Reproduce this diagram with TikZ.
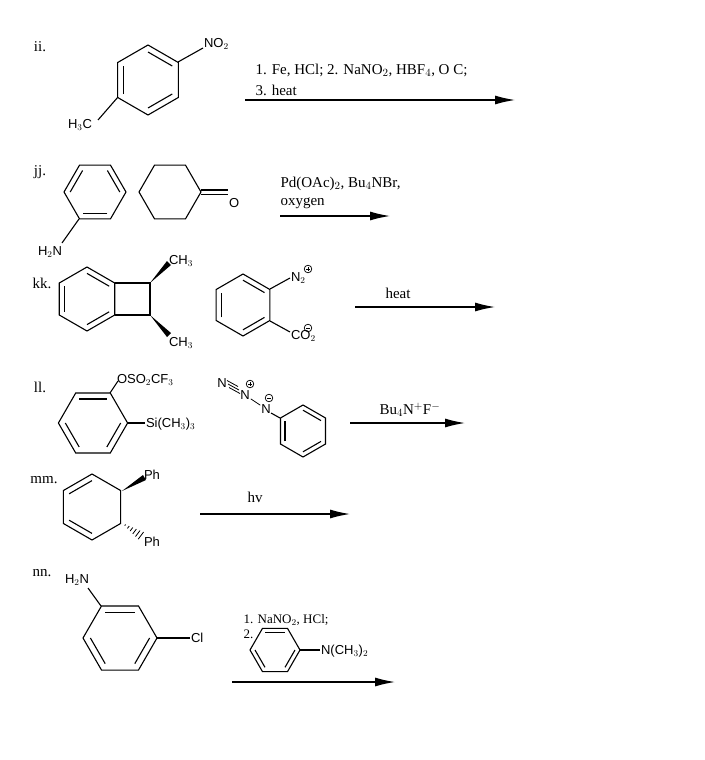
\documentclass[tikz,border=0pt]{standalone}
\usepackage{fontspec}
\setmainfont{Liberation Serif}
\newfontfamily\chemf{Liberation Sans}
\usetikzlibrary{arrows.meta}
\begin{document}
\begin{tikzpicture}[x=1pt,y=-1pt,line width=1.1pt,
  lab/.style={font=\fontsize{15}{17}\selectfont,inner sep=0pt},
  ch/.style={font=\chemf\fontsize{13}{15}\selectfont,inner sep=0.5pt},
  rx/.style={line width=1.3pt,-{Latex[length=20pt,width=9pt]}}]
\useasboundingbox (0,0) rectangle (704,760);
\newcommand\hexring[5]{\begin{scope}[shift={(#1,#2)}]
 \draw (#4:#3) \foreach \i in {1,...,5}{ -- ({#4+60*\i}:#3)} -- cycle;
 \foreach \i in {#5}{\draw ({#4+60*\i}:{0.8*#3}) -- ({#4+60*\i+60}:{0.8*#3});}
 \end{scope}}
\newcommand\chg[3]{\draw[line width=0.7pt] (#1,#2) circle (3.8pt);
 \draw[line width=0.9pt] (#1-2.2,#2) -- (#1+2.2,#2);
 \ifx#3+\draw[line width=0.9pt] (#1,#2-2.2) -- (#1,#2+2.2);\fi}
% labels
\node[lab] (l1) at (40,47) {ii.};
\node[lab] (l2) at (40,172) {jj.};
\node[lab] (l3) at (42,283) {kk.};
\node[lab] (l4) at (40,387) {ll.};
\node[lab] (l5) at (44,480) {mm.};
\node[lab] (l6) at (42,573) {nn.};
% ii
\hexring{148}{80}{35}{-90}{0,2,4}
\draw (178,62) -- (203,48);
\node[ch,anchor=west] (no2) at (203,44) {NO$_2$};
\draw (118,97) -- (98,120);
\node[ch] (h3c) at (80,125) {H$_3$C};
\node[lab,anchor=west] (t1) at (255,70) {1. Fe, HCl; 2. NaNO$_2$, HBF$_4$, O C;};
\node[lab,anchor=west] (t2) at (255,90) {3. heat};
\coordinate (a1s) at (245,100); \coordinate (a1e) at (515,100);
\draw[rx] (a1s) -- (a1e);
% jj
\hexring{95}{192}{31}{0}{1,3,5}
\draw (79,219) -- (62,243);
\node[ch] (nh2) at (50,252) {H$_2$N};
\hexring{170}{192}{31}{0}{}
\draw (201,190) -- (228,190); \draw (201,194.5) -- (228,194.5);
\node[ch,anchor=west] (o1) at (228,203) {O};
\node[lab,anchor=west] (t3) at (280,184) {Pd(OAc)$_2$, Bu$_4$NBr,};
\node[lab,anchor=west] (t4) at (280,203) {oxygen};
\coordinate (a2s) at (280,216); \coordinate (a2e) at (390,216);
\draw[rx] (a2s) -- (a2e);
% kk
\hexring{87}{299}{32}{-90}{0,2,4}
\draw (115,283) -- (150,283) -- (150,315) -- (115,315);
\fill (150,283) -- (167,261) -- (171,265) -- cycle;
\fill (150,315) -- (167,337) -- (171,333) -- cycle;
\node[ch,anchor=west] (me1) at (168,261) {CH$_3$};
\node[ch,anchor=west] (me2) at (168,343) {CH$_3$};
\hexring{243}{305}{31}{-90}{0,2,4}
\draw (270,289) -- (290,278);
\node[ch,anchor=west] (n2) at (290,278) {N$_2$};
\chg{308}{269}{+}
\draw (270,321) -- (290,332);
\node[ch,anchor=west] (co2) at (290,336) {CO$_2$};
\chg{308}{328}{-}
\node[lab] (t5) at (398,293) {heat};
\coordinate (a3s) at (355,307); \coordinate (a3e) at (495,307);
\draw[rx] (a3s) -- (a3e);
% ll
\hexring{93}{423}{34.6}{0}{0,2,4}
\draw (110,393) -- (118,381);
\node[ch,anchor=west] (otf) at (116,380) {OSO$_2$CF$_3$};
\draw (127,423) -- (145,423);
\node[ch,anchor=west] (tms) at (145,424) {Si(CH$_3$)$_3$};
\node[ch] (na) at (222,383) {N};
\node[ch] (nb) at (245,395) {N};
\node[ch] (nc) at (266,409) {N};
\draw[line width=0.8pt] (228,384) -- (239,390); \draw[line width=0.8pt] (229,387.5) -- (240,393.5); \draw[line width=0.8pt] (227,380.5) -- (238,386.5);
\draw[line width=0.8pt] (nb) -- (nc);
\chg{250}{384}{+}
\chg{269}{398}{-}
\hexring{303}{431}{26}{-90}{0,2,4}
\draw (271,413) -- (280,418);
\node[lab] (t6) at (410,410) {Bu$_4$N$^+$F$^-$};
\coordinate (a4s) at (350,423); \coordinate (a4e) at (465,423);
\draw[rx] (a4s) -- (a4e);
% mm
\hexring{92}{507}{33}{-90}{3,5}
\fill (122,491) -- (143,475) -- (146,480) -- cycle;
\node[ch,anchor=west] (ph1) at (143,475) {Ph};
\foreach \t in {0.15,0.3,...,1}{\draw[line width=0.8pt] ({122+21*\t+3*\t},{523+14*\t-4*\t}) -- ({122+21*\t-3*\t},{523+14*\t+4*\t});}
\node[ch,anchor=west] (ph2) at (143,542) {Ph};
\node[lab] (t7) at (255,497) {hv};
\coordinate (a5s) at (200,514); \coordinate (a5e) at (350,514);
\draw[rx] (a5s) -- (a5e);
% nn
\hexring{120}{638}{37}{0}{0,2,4}
\draw (101,606) -- (88,588);
\node[ch] (nh2b) at (77,580) {H$_2$N};
\draw (157,638) -- (190,638);
\node[ch,anchor=west] (cl) at (190,638) {Cl};
\node[lab,anchor=west,font=\fontsize{13}{15}\selectfont] (t8) at (243,620) {1. NaNO$_2$, HCl;};
\node[lab,anchor=west,font=\fontsize{13}{15}\selectfont] (t9) at (243,634) {2.};
\hexring{275}{650}{25}{0}{0,2,4}
\draw (300,650) -- (320,650);
\node[ch,anchor=west] (nme) at (320,651) {N(CH$_3$)$_2$};
\coordinate (a6s) at (232,682); \coordinate (a6e) at (395,682);
\draw[rx] (a6s) -- (a6e);
\end{tikzpicture}
\end{document}
